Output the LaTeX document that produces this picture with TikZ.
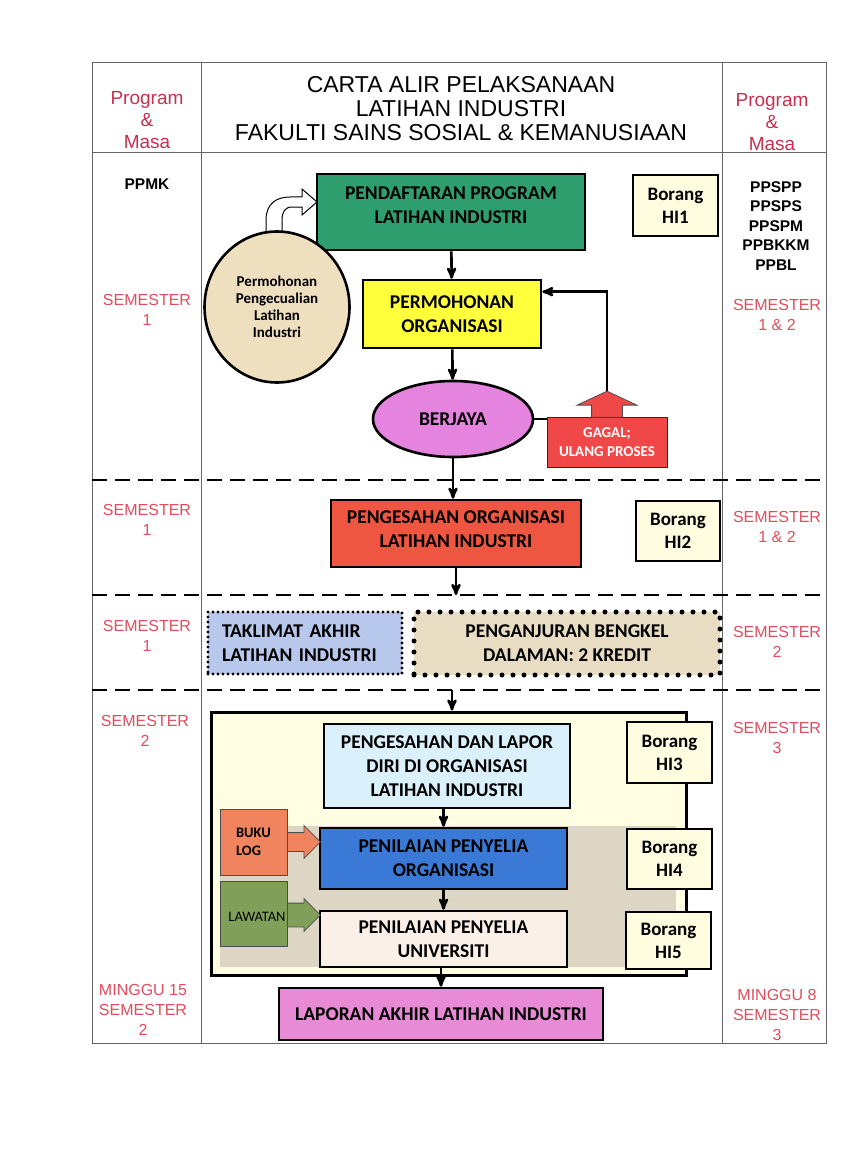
\documentclass[tikz,border=0pt]{standalone}
\usepackage{fontspec}
\setmainfont{Liberation Sans}
\newfontfamily\calfont{Carlito}
\usetikzlibrary{arrows,shapes,positioning,calc}

\definecolor{masared}{RGB}{196,48,78}
\definecolor{semred}{RGB}{226,76,92}
\definecolor{daftargreen}{RGB}{46,158,110}
\definecolor{boraCream}{RGB}{255,252,224}
\definecolor{kecualiTan}{RGB}{238,223,190}
\definecolor{mohonYellow}{RGB}{255,255,60}
\definecolor{jayaPink}{RGB}{228,132,222}
\definecolor{gagalRed}{RGB}{240,72,72}
\definecolor{sahRed}{RGB}{238,86,66}
\definecolor{taklimatBlue}{RGB}{184,200,236}
\definecolor{bengkelTan}{RGB}{232,221,194}
\definecolor{wrapCream}{RGB}{255,253,226}
\definecolor{wrapTan}{RGB}{222,214,196}
\definecolor{laporBlue}{RGB}{218,240,250}
\definecolor{nilaiBlue}{RGB}{58,122,214}
\definecolor{uniCream}{RGB}{251,240,232}
\definecolor{bukuOrange}{RGB}{240,132,94}
\definecolor{lawatGreen}{RGB}{128,160,90}
\definecolor{akhirPink}{RGB}{232,138,214}

\tikzstyle{frame}=[draw=black!60,line width=1pt]
\tikzstyle{divider}=[black,line width=2pt,dash pattern=on 15pt off 8pt]
\tikzstyle{line}=[->,>=stealth',black,line width=2.6pt]
\tikzstyle{process}=[rectangle,draw=black,line width=2.6pt,align=center,
                     inner sep=0pt,font=\calfont\bfseries\fontsize{19.5}{24}\selectfont]
\tikzstyle{borang}=[process,fill=boraCream,minimum width=85pt,minimum height=61pt,
                    font=\calfont\bfseries\fontsize{19}{23}\selectfont]
\tikzstyle{sidetext}=[align=center,text=semred,font=\fontsize{16}{20}\selectfont]
\tikzstyle{masatext}=[align=center,text=masared,font=\fontsize{19}{22}\selectfont]
\tikzstyle{progtext}=[align=center,font=\bfseries\fontsize{15.5}{19.5}\selectfont]
\tikzstyle{dotbox}=[process,line width=3.2pt,dash pattern=on 0pt off 5pt,line cap=round]
\tikzstyle{bigdotbox}=[process,line width=5pt,dash pattern=on 0pt off 11pt,line cap=round]
\tikzstyle{tagbox}=[rectangle,draw=black!70,line width=0.8pt,inner sep=0pt,
                    minimum width=67pt,font=\calfont\fontsize{14}{18}\selectfont]
\tikzstyle{blockarrow}=[single arrow,draw=black!70,line width=0.8pt,inner sep=0pt]

\begin{document}
\begin{tikzpicture}[x=1pt,y=-1pt]
\useasboundingbox (0,0) rectangle (850,1169);

% table frame
\draw[frame] (92,63) rectangle (826,1043);
\draw[frame] (92,153) -- (826,153);
\draw[frame] (201,63) -- (201,1043);
\draw[frame] (722,63) -- (722,1043);
\foreach \y in {480,595,690}
  \draw[divider] (92,\y) -- (826,\y);
\coordinate (dB) at (453,595);
\coordinate (dC) at (452,690);

% header
\node[align=center,font=\fontsize{23}{24}\selectfont] (title) at (461,109)
  {CARTA ALIR PELAKSANAAN\\LATIHAN INDUSTRI\\FAKULTI SAINS SOSIAL \& KEMANUSIAAN};
\node[masatext] (masaL) at (147,120) {Program\\\&\\Masa};
\node[masatext] (masaR) at (772,122) {Program\\\&\\Masa};

% left column
\node[progtext] (ppmk) at (147,184) {PPMK};
\node[sidetext] (semL1) at (147,310) {SEMESTER\\1};
\node[sidetext] (semL2) at (147,520) {SEMESTER\\1};
\node[sidetext] (semL3) at (147,636) {SEMESTER\\1};
\node[sidetext] (semL4) at (145,731) {SEMESTER\\2};
\node[sidetext] (semL5) at (143,1010) {MINGGU 15\\SEMESTER\\2};

% right column
\node[progtext] (prog) at (776,226) {PPSPP\\PPSPS\\PPSPM\\PPBKKM\\PPBL};
\node[sidetext] (semR1) at (777,315) {SEMESTER\\1 \& 2};
\node[sidetext] (semR2) at (777,527) {SEMESTER\\1 \& 2};
\node[sidetext] (semR3) at (777,642) {SEMESTER\\2};
\node[sidetext] (semR4) at (777,738) {SEMESTER\\3};
\node[sidetext] (semR5) at (777,1015) {MINGGU 8\\SEMESTER\\3};

% registration
\node[process,fill=daftargreen,minimum width=268pt,minimum height=76pt,text depth=13pt] (daftar)
  at (451,212) {PENDAFTARAN PROGRAM\\LATIHAN INDUSTRI};
\node[borang] (hi1) at (675.5,205.5) {Borang\\HI1};
\draw[black,line width=1pt,fill=white]
  (266,240) -- (266,220) .. controls (266,204) and (276,197) .. (290,197)
  -- (302,197) -- (302,189) -- (317,202) -- (302,215) -- (302,207) -- (292,207)
  .. controls (285,207) and (282,212) .. (282,220) -- (282,240) -- cycle;
\node[ellipse,draw=black,line width=2.6pt,fill=kecualiTan,minimum width=145pt,
      minimum height=151pt,align=center,inner sep=0pt,
      font=\calfont\bfseries\fontsize{15}{17}\selectfont] (kecuali) at (277,307)
  {Permohonan\\Pengecualian\\Latihan\\Industri};

\node[process,fill=mohonYellow,minimum width=178pt,minimum height=68pt] (mohon) at (452,314)
  {PERMOHONAN\\ORGANISASI};
\node[ellipse,draw=black,line width=2.6pt,fill=jayaPink,minimum width=160pt,minimum height=76pt,
      inner sep=0pt,font=\calfont\bfseries\fontsize{19.5}{24}\selectfont] (jaya) at (453,419) {BERJAYA};
\node[rectangle,draw=red!55!black,line width=0.8pt,fill=gagalRed,minimum width=120pt,
      minimum height=50pt,align=center,text=white,
      font=\calfont\bfseries\fontsize{15}{19}\selectfont] (gagal) at (607,442) {GAGAL;\\ULANG PROSES};
\node[blockarrow,fill=gagalRed,shape border rotate=90,anchor=tail,minimum height=26pt,
      minimum width=59pt,single arrow head extend=14.5pt,single arrow tip angle=130,
      text width=30pt] (ulang) at ([yshift=-1pt]gagal.north) {};

\path[line] (daftar) edge (mohon);
\path[line] (mohon) edge (jaya);
\draw[black,line width=2.6pt] (jaya.east) -- (jaya.east -| gagal.west);
\draw[line] (ulang.tip) |- ([yshift=-13pt]mohon.north east);

% approval
\node[process,fill=sahRed,minimum width=250pt,minimum height=67pt,text depth=9pt] (sahorg)
  at (456,533.5) {PENGESAHAN ORGANISASI\\LATIHAN INDUSTRI};
\node[borang,minimum width=84pt,minimum height=60pt] (hi2) at (678,531) {Borang\\HI2};
\draw[line] (jaya.south) -- (jaya.south |- sahorg.north);
\draw[line] (sahorg.south) -- (sahorg.south |- dB);

% briefing and workshop
\node[dotbox,fill=taklimatBlue,minimum width=194pt,minimum height=62pt,text width=166pt,
      align=left] (taklimat) at (305,643) {TAKLIMAT AKHIR\\LATIHAN INDUSTRI};
\node[bigdotbox,fill=bengkelTan,minimum width=306pt,minimum height=63pt] (bengkel) at (567,643.5)
  {PENGANJURAN BENGKEL\\DALAMAN: 2 KREDIT};

% placement
\node[rectangle,draw=black,line width=3pt,fill=wrapCream,minimum width=475pt,
      minimum height=263pt] (wrap) at (448.5,843.5) {};
\fill[wrapTan] (220,826) rectangle (676,967);
\draw[line] (dC) -- (dC |- wrap.north);

\node[process,fill=laporBlue,minimum width=246pt,minimum height=84pt] (lapor) at (447,766)
  {PENGESAHAN DAN LAPOR\\DIRI DI ORGANISASI\\LATIHAN INDUSTRI};
\node[borang] (hi3) at (669.5,752.5) {Borang\\HI3};
\node[process,fill=nilaiBlue,minimum width=247pt,minimum height=61pt] (nilaiorg) at (443.5,858.5)
  {PENILAIAN PENYELIA\\ORGANISASI};
\node[borang,minimum height=60pt] (hi4) at (669.5,859) {Borang\\HI4};
\node[process,fill=uniCream,minimum width=247pt,minimum height=56pt] (nilaiuni) at (443.5,939)
  {PENILAIAN PENYELIA\\UNIVERSITI};
\node[borang,minimum height=57pt] (hi5) at (668.5,940.5) {Borang\\HI5};

\node[blockarrow,fill=bukuOrange,anchor=tail,minimum height=40pt,minimum width=32pt,
      single arrow head extend=7pt,text height=18pt] (bukutip) at (280,842) {};
\node[tagbox,fill=bukuOrange,minimum height=66pt,align=left,
      font=\calfont\bfseries\fontsize{14.5}{18}\selectfont] (buku) at (253.5,842)
  {BUKU\\LOG\phantom{U}};
\node[blockarrow,fill=lawatGreen,anchor=tail,minimum height=40pt,minimum width=32pt,
      single arrow head extend=4.5pt,text height=23pt] (lawattip) at (280,915) {};
\node[tagbox,fill=lawatGreen,minimum height=65pt] (lawat) at (253.5,913.5) {};
\node[font=\calfont\fontsize{14.5}{18}\selectfont] (lawattxt) at (257,917) {LAWATAN};

\path[line] (lapor.south -| nilaiorg.north) edge (nilaiorg.north);
\path[line] (nilaiorg) edge (nilaiuni);

% final report
\node[process,fill=akhirPink,minimum width=324pt,minimum height=52pt] (akhir) at (441,1014)
  {LAPORAN AKHIR LATIHAN INDUSTRI};
\draw[line] (nilaiuni.south -| akhir.north) -- (akhir.north);
\end{tikzpicture}
\end{document}
